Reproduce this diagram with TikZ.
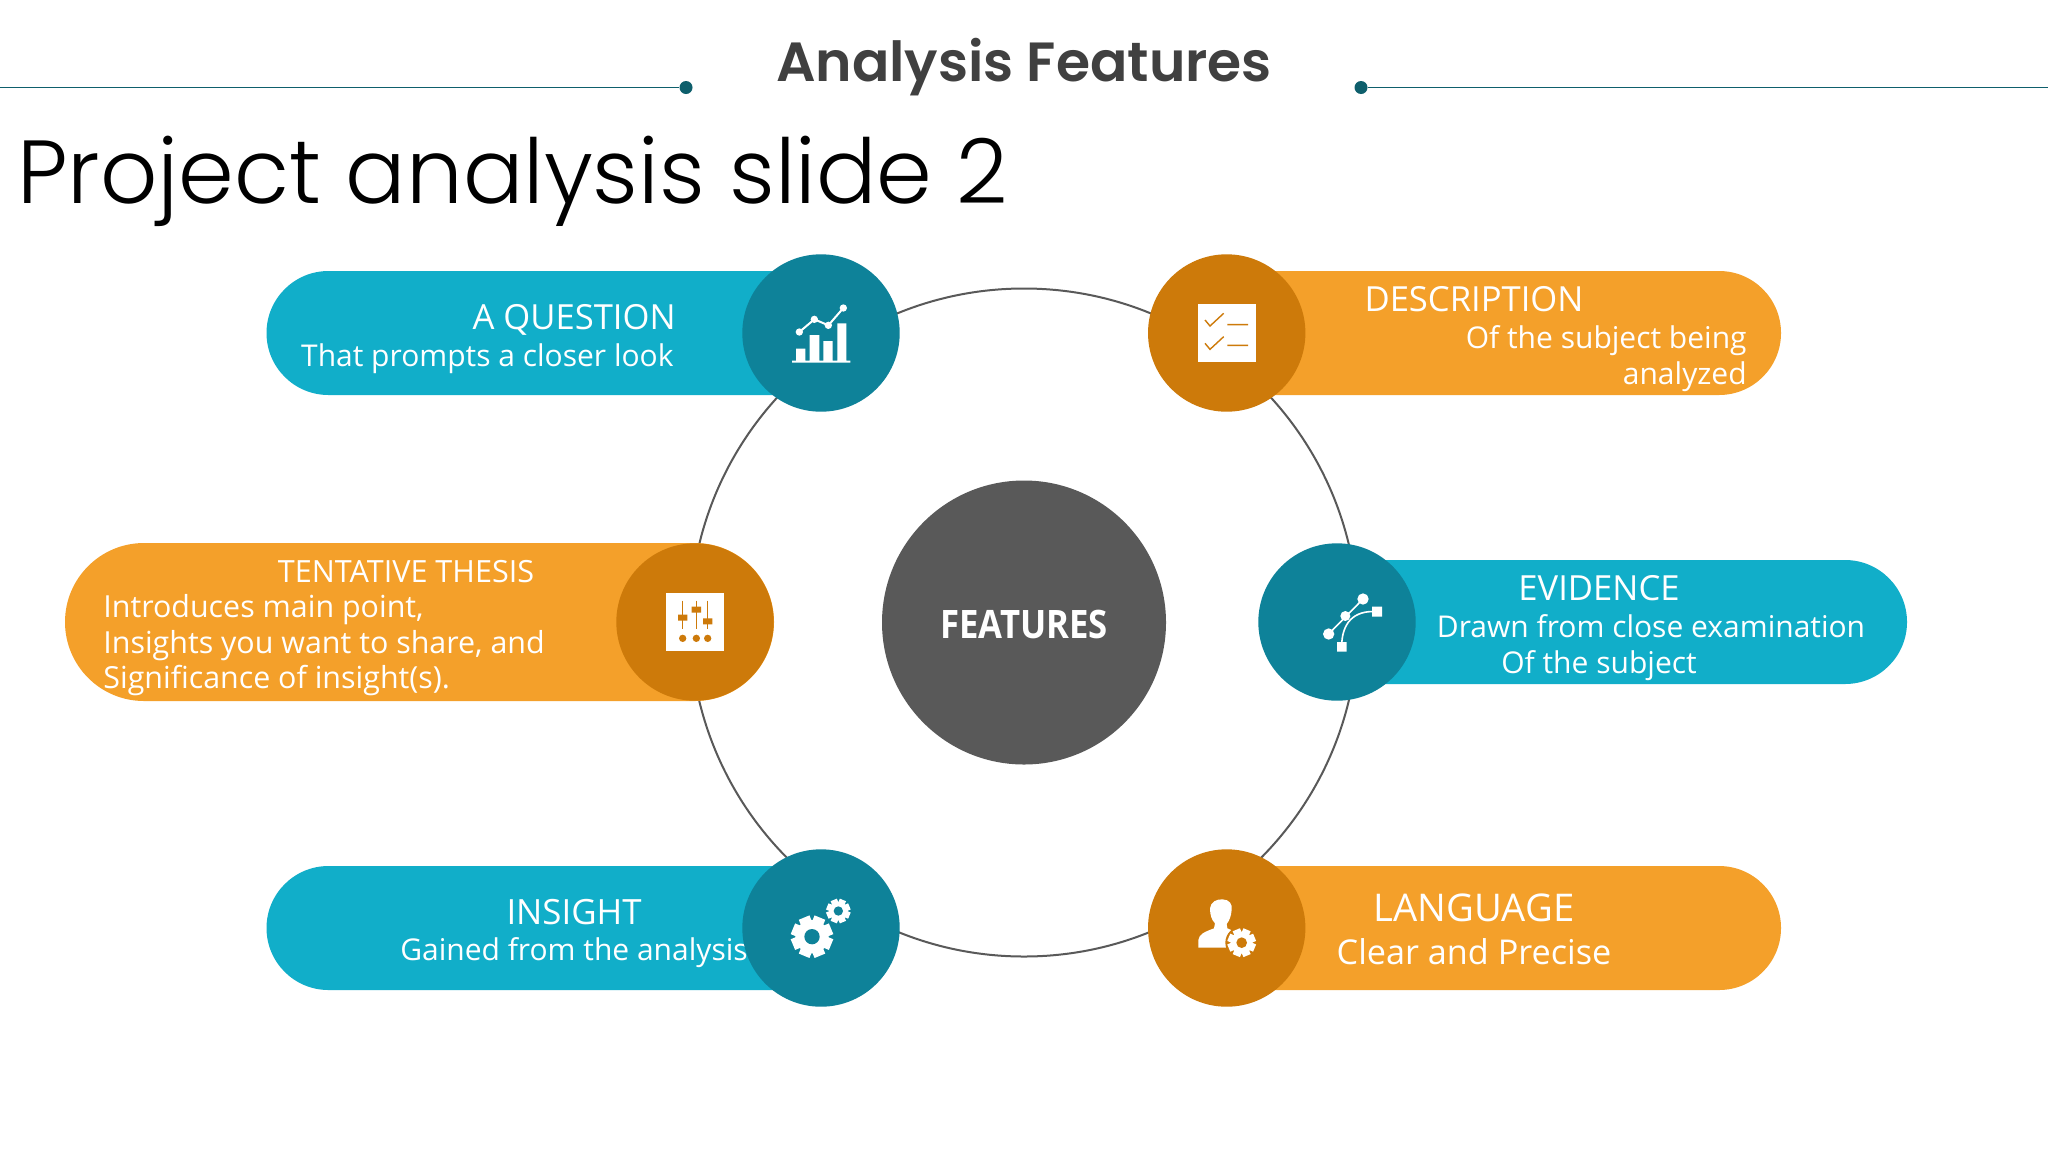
\documentclass[tikz,border=0pt]{standalone}
\usepackage{graphicx}
\usepackage{fontspec}
\setmainfont{Open Sans}
\newfontfamily\titlefont{Poppins Light}
\newfontfamily\headfont{Poppins SemiBold}
\definecolor{tealpill}{HTML}{11AEC9}
\definecolor{tealdisc}{HTML}{0E8299}
\definecolor{orangepill}{HTML}{F4A02A}
\definecolor{orangedisc}{HTML}{CD7A0A}
\definecolor{hub}{HTML}{595959}
\definecolor{ruleteal}{HTML}{0E5F6C}
\definecolor{titlegrey}{HTML}{404040}
\newcommand{\fs}[1]{\fontsize{#1}{#1}\selectfont}
\newcommand{\mygear}[6]{% x,y,outer,body,hole,holecolour
  \fill[white] (#1,#2) circle (#4);
  \foreach \a in {0,45,...,315}{
    \fill[white,shift={(#1,#2)},rotate=\a+22.5] (-#3*0.28,0) rectangle (#3*0.28,#3);
  }
  \fill[#6] (#1,#2) circle (#5);
}
\tikzset{
  pill/.style={inner sep=0pt,minimum height=#1,rounded corners=31pt},
  pilltall/.style={inner sep=0pt,rounded corners=39.5pt},
  disc/.style={circle,inner sep=0pt,minimum size=78.7pt},
  lbl/.style={text=white,inner sep=0pt},
}
\begin{document}
\begin{tikzpicture}[x=0.5pt,y=-0.5pt]
\useasboundingbox (0,0) rectangle (2048,1152);
\fill[white] (0,0) rectangle (2048,1152);
% top rules
\coordinate (la) at (0,87.5);
\coordinate (ra) at (2048,87.5);
\node[circle,fill=ruleteal,inner sep=0pt,minimum size=6.5pt] (ldot) at (686,87.5) {};
\node[circle,fill=ruleteal,inner sep=0pt,minimum size=6.5pt] (rdot) at (1361,87.5) {};
\draw[ruleteal,line width=0.9pt] (la) -- (ldot);
\draw[ruleteal,line width=0.9pt] (rdot) -- (ra);
\node[text=titlegrey,inner sep=0pt,anchor=base] (head) at (1024,81) {\headfont\fs{27.6}Analysis Features};
\node[text=black,inner sep=0pt,anchor=base west] (title) at (17,203) {\titlefont\fs{44.8}Project analysis slide 2};
% ring and hub
\node[circle,draw=hub,line width=1pt,inner sep=0pt,minimum size=334pt] (ring) at (1024,622.5) {};
\node[circle,fill=hub,inner sep=0pt,minimum size=142pt] (hubnode) at (1024,622.5) {};
\node[text=white,inner sep=0pt,anchor=base] (hublabel) at (1024,638) {\bfseries\fs{19.6}\scalebox{0.885}[1]{FEATURES}};
% pills
\node[fill=tealpill,pill=62pt,minimum width=289.75pt] (p1) at (556.25,333) {};
\node[fill=orangepill,pill=62pt,minimum width=289.65pt] (p2) at (1491.35,333) {};
\node[fill=orangepill,pilltall,minimum height=79pt,minimum width=354.5pt] (p3) at (419.5,622) {};
\node[fill=tealpill,pill=62pt,minimum width=297.5pt] (p4) at (1609.5,622) {};
\node[fill=tealpill,pill=62pt,minimum width=289.75pt] (p5) at (556.25,928) {};
\node[fill=orangepill,pill=62pt,minimum width=289.65pt] (p6) at (1491.35,928) {};
% labels
\node[lbl,anchor=mid east] (t1a) at (676,324) {\fs{17.3}A QUESTION};
\node[lbl,anchor=mid east] (t1b) at (674,361) {\fs{15}That prompts a closer look};
\node[lbl,anchor=mid] (t2a) at (1474,306) {\fs{17.3}DESCRIPTION};
\node[lbl,anchor=mid east] (t2b) at (1747,343) {\fs{15}Of the subject being};
\node[lbl,anchor=mid east] (t2c) at (1747,379) {\fs{15}analyzed};
\node[lbl,anchor=mid] (t3a) at (406,577) {\fs{15.3}TENTATIVE THESIS};
\node[lbl,anchor=mid west] (t3b) at (103,612) {\fs{15.2}Introduces main point,};
\node[lbl,anchor=mid west] (t3c) at (103,648) {\fs{15.2}Insights you want to share, and};
\node[lbl,anchor=mid west] (t3d) at (103,683) {\fs{15.2}Significance of insight(s).};
\node[lbl,anchor=mid] (t4a) at (1599,595) {\fs{17.3}EVIDENCE};
\node[lbl,anchor=mid] (t4b) at (1651,632) {\fs{15}Drawn from close examination};
\node[lbl,anchor=mid] (t4c) at (1599,668) {\fs{15}Of the subject};
\node[lbl,anchor=mid] (t5a) at (574,919) {\fs{17.4}INSIGHT};
\node[lbl,anchor=mid] (t5b) at (574,955) {\fs{15}Gained from the analysis};
\node[lbl,anchor=mid] (t6a) at (1474,916) {\fs{19.1}LANGUAGE};
\node[lbl,anchor=mid] (t6b) at (1474,959) {\fs{17.1}Clear and Precise};
% discs
\node[disc,fill=tealdisc] (d1) at (821,333) {};
\node[disc,fill=orangedisc] (d2) at (1226.7,333) {};
\node[disc,fill=orangedisc] (d3) at (695,622) {};
\node[disc,fill=tealdisc] (d4) at (1337,622) {};
\node[disc,fill=tealdisc] (d5) at (821,928) {};
\node[disc,fill=orangedisc] (d6) at (1226.7,928) {};
% icon 1: chart
\begin{scope}[shift={(720,240)},scale=1/3]
  \fill[white] (228,326) rectangle (256,362) (269,285) rectangle (298,362)
    (310,303) rectangle (338,362) (352,250) rectangle (379,362) (216,362) rectangle (391,368);
  \draw[white,line width=1pt] (238,276) -- (283,238) -- (325,256) -- (370,204);
  \fill[white] (238,276) circle (11) (283,238) circle (11) (325,256) circle (11) (370,204) circle (11);
\end{scope}
% icon 2: checklist
\begin{scope}[shift={(1130,240)},scale=1/3]
  \fill[white] (203,192) rectangle (377,367);
  \draw[orangedisc,line width=0.7pt] (225,240) -- (240,258) -- (281,220) (225,310) -- (240,328) -- (281,290)
    (292,254) -- (354,254) (292,316) -- (354,316);
\end{scope}
% icon 3: sliders
\begin{scope}[shift={(600,530)},scale=1/3]
  \fill[white] (199,190) rectangle (373,364);
  \draw[orangedisc,line width=0.8pt] (248,212) -- (248,296) (289,212) -- (289,296) (323,212) -- (323,296);
  \fill[orangedisc] (234,254) rectangle (262,272) (275,230) rectangle (303,248) (309,265) rectangle (337,283);
  \fill[orangedisc] (248,325) circle (11) (289,325) circle (11) (323,325) circle (11);
\end{scope}
% icon 4: bezier
\begin{scope}[shift={(1240,530)},scale=1/3]
  \draw[white,line width=0.8pt] (369,207) -- (266,312);
  \draw[white,line width=0.8pt] (410,245) .. controls (340,240) and (305,280) .. (305,350);
  \fill[white] (369,207) circle (17) (266,312) circle (17) (316,258) circle (15);
  \fill[white] (396,230) rectangle (426,260) (291,336) rectangle (320,365);
\end{scope}
% icon 5: gears
\begin{scope}[shift={(720,830)},scale=1/3]
  \mygear{276}{320}{62}{50}{23}{tealdisc}
  \mygear{355}{243}{36}{28}{14}{tealdisc}
\end{scope}
% icon 6: person and gear
\begin{scope}[shift={(1130,830)},scale=1/3]
  \fill[white] (205,353) -- (205,330) .. controls (207,312) and (225,305) .. (252,295)
    -- (255,280) .. controls (245,270) and (240,255) .. (240,235)
    .. controls (242,215) and (260,207) .. (278,208)
    .. controls (298,209) and (308,222) .. (305,240)
    .. controls (303,260) and (298,272) .. (290,282) -- (292,295)
    .. controls (305,300) and (315,305) .. (320,320) -- (320,353) -- cycle;
  \fill[orangedisc] (335,338) circle (49);
  \mygear{335}{338}{42}{33}{16}{orangedisc}
\end{scope}
\end{tikzpicture}
\end{document}
